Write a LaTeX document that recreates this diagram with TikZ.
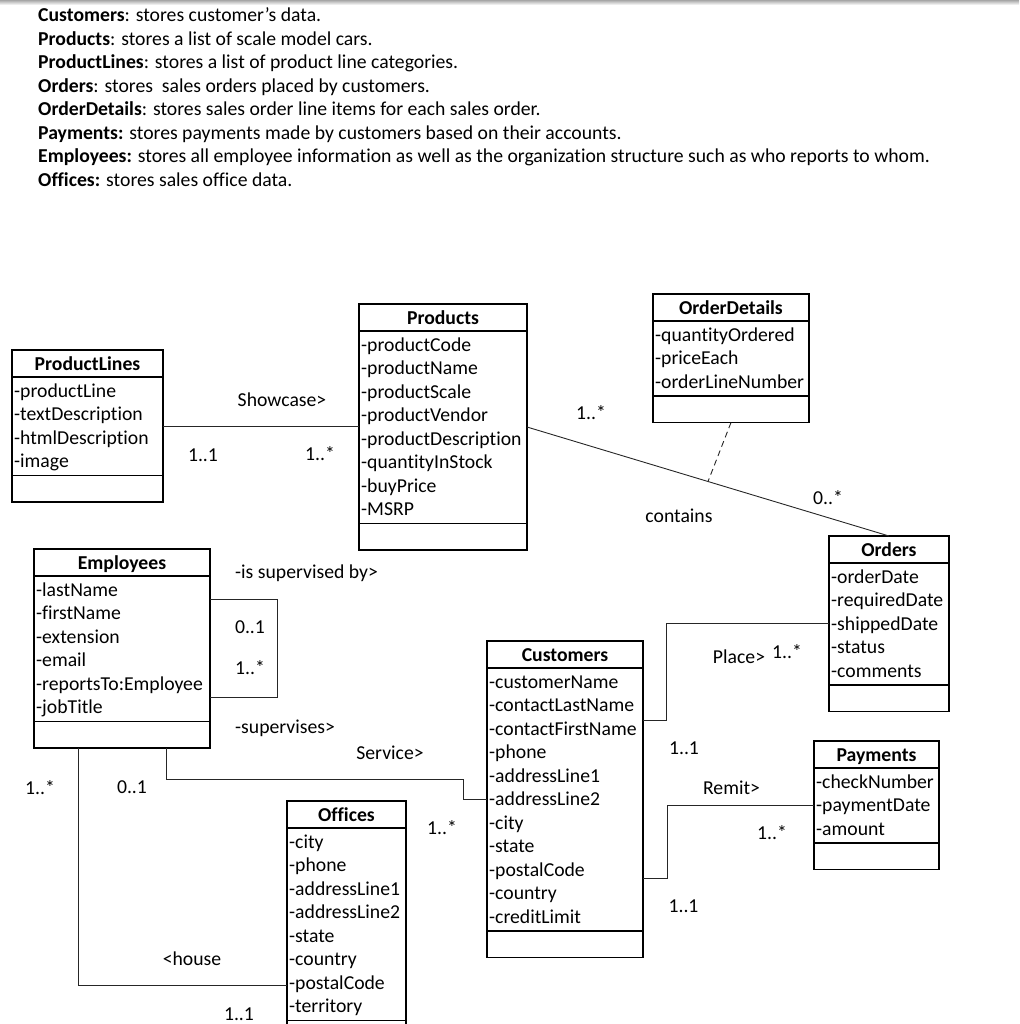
\documentclass[tikz,border=0pt]{standalone}
\usepackage{fontspec}
\setmainfont[Ligatures=NoCommon]{Carlito}
\usepackage{tikz}

% class box: name, left, top, width, number of attributes, title, attributes
\newcommand{\umlclass}[7]{%
  \node[box, minimum width=#4pt, minimum height={58pt+23.5pt*#5}] (#1) at (#2,#3) {};
  \draw[boxline] (#1.north west) ++(0,27) -- ++(#4,0);
  \draw[boxline] (#1.south west) ++(0,-26.5) -- ++(#4,0);
  \path (#1.north) ++(0,20) node[anchor=base, inner sep=0pt] (#1-name) {\textbf{#6}};
  \foreach \a [count=\i] in {#7}
    \path (#1.north west) ++(2,{23.5+23.5*\i}) node[attr] (#1-\i) {-\a};
}

\begin{document}
\begin{tikzpicture}[x=1pt,y=-1pt, font=\fontsize{19.7}{23.5}\selectfont,
  box/.style={draw, line width=1.2pt, anchor=north west, inner sep=0pt, outer sep=0pt},
  boxline/.style={line width=1.2pt},
  attr/.style={anchor=base west, inner sep=0pt},
  lbl/.style={anchor=base, inner sep=0pt},
  desc/.style={anchor=base west, inner sep=0pt},
  link/.style={line width=0.9pt, black!85}]
	\useasboundingbox (0,0) rectangle (1019,1024);
	\clip (0,0) rectangle (1019,1024);
	\fill[top color=black!35, bottom color=white] (0,0) rectangle (1019,5);
	\node[desc] (d1) at (38,22) {\textbf{Customers}: stores customer’s data.};
	\node[desc] (d2) at (38,45.5) {\textbf{Products}: stores a list of scale model cars.};
	\node[desc] (d3) at (38,69) {\textbf{ProductLines}: stores a list of product line categories.};
	\node[desc] (d4) at (38,92.5) {\textbf{Orders}: stores\ \ sales orders placed by customers.};
	\node[desc] (d5) at (38,116) {\textbf{OrderDetails}: stores sales order line items for each sales order.};
	\node[desc] (d6) at (38,139.5) {\textbf{Payments:} stores payments made by customers based on their accounts.};
	\node[desc] (d7) at (38,163) {\textbf{Employees:} stores all employee information as well as the organization structure such as who reports to whom.};
	\node[desc] (d8) at (38,186.5) {\textbf{Offices:} stores sales office data.};
	\umlclass{plines}{12}{350}{151}{4}{ProductLines}{productLine,textDescription,htmlDescription,image}
	\umlclass{prod}{359}{304}{168}{8}{Products}{productCode,productName,productScale,productVendor,productDescription,quantityInStock,buyPrice,MSRP}
	\umlclass{odet}{653}{294}{156}{3}{OrderDetails}{quantityOrdered,priceEach,orderLineNumber}
	\umlclass{emp}{34}{549}{176}{6}{Employees}{lastName,firstName,extension,email,reportsTo:Employee,jobTitle}
	\umlclass{orders}{829}{536}{120}{5}{Orders}{orderDate,requiredDate,shippedDate,status,comments}
	\umlclass{cust}{487}{641}{156}{11}{Customers}{customerName,contactLastName,contactFirstName,phone,addressLine1,addressLine2,city,state,postalCode,country,creditLimit}
	\umlclass{pay}{814}{741}{125}{3}{Payments}{checkNumber,paymentDate,amount}
	\umlclass{off}{287}{801}{119}{8}{Offices}{city,phone,addressLine1,addressLine2,state,country,postalCode,territory}
	\draw[link] (plines.east) -- (plines.east -| prod.west);
	\draw[link] (prod.east) -- coordinate[pos=0.5] (cmid) (orders.north);
	\draw[link, dash pattern=on 6pt off 4pt] (odet.south) -- (cmid);
	\draw[link] ([yshift=49pt]emp.east) -- ++(67,0) |- ([yshift=-49pt]emp.east);
	\draw[link] ([xshift=44pt]emp.south) -- ++(0,31) -| ([xshift=-24pt]cust.west) -- (cust.west);
	\draw[link] ([xshift=-44pt]emp.south) |- ([yshift=-61pt]off.west);
	\draw[link] ([yshift=79pt]cust.east) -- ++(23.5,0) |- (orders.west);
	\draw[link] ([yshift=-79pt]cust.east) -- ++(24,0) |- (pay.west);
	\node[lbl] (l-show) at (282,406) {Showcase>};
	\node[lbl] (l-pl) at (203,461.5) {1..1};
	\node[lbl] (l-pr) at (320,460.5) {1..*};
	\node[lbl] (l-c1) at (591,419.5) {1..*};
	\node[lbl] (l-c2) at (828,504.5) {0..*};
	\node[lbl] (l-cont) at (679,522.5) {contains};
	\node[desc] (l-sup1) at (235,578) {-is supervised by>};
	\node[lbl] (l-s1) at (250,633.5) {0..1};
	\node[lbl] (l-s2) at (250,674.5) {1..*};
	\node[desc] (l-sup2) at (235,733) {-supervises>};
	\node[lbl] (l-serv) at (390,759.5) {Service>};
	\node[lbl] (l-e1) at (40,794.5) {1..*};
	\node[lbl] (l-e2) at (132,793.5) {0..1};
	\node[lbl] (l-e3) at (442,834.5) {1..*};
	\node[lbl] (l-house) at (192,965.5) {<house};
	\node[lbl] (l-o1) at (239,1020) {1..1};
	\node[lbl] (l-place) at (739,663.5) {Place>};
	\node[lbl] (l-p1) at (787,658) {1..*};
	\node[lbl] (l-p2) at (684,754.5) {1..1};
	\node[lbl] (l-remit) at (731.5,794.5) {Remit>};
	\node[lbl] (l-r1) at (772,839) {1..*};
	\node[lbl] (l-r2) at (683.5,912.5) {1..1};
\end{tikzpicture}
\end{document}
